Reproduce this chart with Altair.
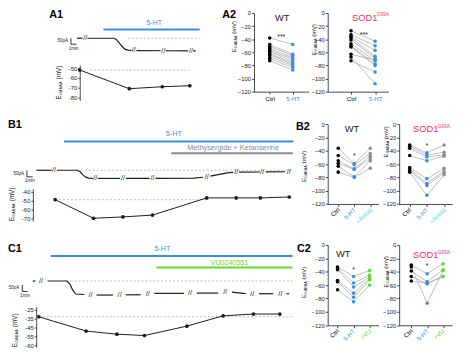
import json
import altair as alt
import pandas as pd

FONT = "Liberation Sans"
W, H = 466, 355

BLUE = "#3b8fe3"
PINK = "#e8336f"
GREEN = "#62d836"
CYAN = "#69d3ef"
BAR_GRAY = "#8c8c8c"
LINE_GRAY = "#a3a3a3"
DASH_GRAY = "#a8a8a8"
INK = "#1c1c1c"

# ================= DATA =================
# ---- Row A (A1): holding current trace (pA) vs time (min) and E_GABAA (mV)
A_TRACE_T = [-0.5, 0.5, 1.4, 6.1, 6.6, 7.1, 7.7, 8.2, 8.8, 9.4, 10.3, 14.7, 15.6, 19.7, 20.6, 21.1]
A_TRACE_I = [0, 0, 0, 0, -8, -35, -70, -92, -100, -102, -104, -106, -106, -107, -107, -107]
A_TRACE_SEG = [0, 0, 1, 1, 1, 1, 1, 1, 1, 1, 2, 2, 3, 3, 4, 4]
A_BREAK_T = [1.0, 9.8, 15.2, 20.2]
A_BREAK_I = [0, -103, -106, -107]
A_E_TIME = [0, 9, 15, 20]
A_E_VAL = [-52, -71, -69, -68]
A_DRUG_NAMES = ["5-HT"]
A_DRUG_START = [4.3]
A_DRUG_END = [21.8]

# ---- Row B (B1)
B_TRACE_T = [-3.2, -0.6, 0.3, 3.7, 4.2, 4.7, 5.2, 5.7, 6.4, 7.2, 11.0, 12.0, 16.0, 17.0, 23.5, 25.1,
             26.3, 28.3, 29.5, 30.2, 31.2, 34.7, 35.7, 39.0]
B_TRACE_I = [0, 0, 0, 0, -10, -35, -52, -60, -62, -62, -62, -62, -61, -61, -59, -53,
             -45, -28, -18, -16, -14, -13, -12, -11]
B_TRACE_SEG = [0, 0, 1, 1, 1, 1, 1, 1, 1, 2, 2, 3, 3, 4, 4, 4, 5, 5, 5, 5, 6, 6, 7, 7]
B_BREAK_T = [-0.2, 6.8, 11.5, 16.5, 25.7, 30.7, 35.1, 39.6]
B_BREAK_I = [0, -62, -62, -61, -50, -15, -13, -11]
B_E_TIME = [0, 6.5, 11.5, 16.5, 25.7, 30.7, 34.8, 39.7]
B_E_VAL = [-49, -69.5, -68, -66, -47, -47, -47, -46]
B_DRUG_NAMES = ["5-HT", "Methysergide + Ketanserine"]
B_DRUG_START = [1.5, 19.7]
B_DRUG_END = [40.4, 40.3]

# ---- Row C (C1)
C_TRACE_T = [-1.1, -0.6, 1.6, 5.1, 5.7, 6.1, 6.7, 8.3, 10.5, 13.5, 15.8, 18.5, 21.0, 26.4,
             28.7, 32.6, 35.1, 37.6, 40.0, 42.6, 45.0, 45.5]
C_TRACE_I = [0, 0, 0, 0, -25, -65, -100, -104, -108, -108, -106, -106, -95, -95,
             -93, -93, -85, -97, -98, -98, -98, -98]
C_TRACE_SEG = [0, 0, 1, 1, 1, 1, 1, 1, 2, 2, 3, 3, 4, 4, 5, 5, 6, 6, 7, 7, 8, 8]
C_BREAK_T = [0.4, 9.4, 14.7, 19.8, 27.5, 33.9, 38.8, 43.9]
C_BREAK_I = [0, -106, -107, -100, -94, -88, -98, -98]
C_E_TIME = [0, 8.6, 14.2, 19.2, 26.9, 33.5, 39, 43.8]
C_E_VAL = [-33, -49, -52.5, -54, -43.5, -32, -30, -30]
C_DRUG_NAMES = ["5-HT", "VU0240551"]
C_DRUG_START = [2.2, 21.4]
C_DRUG_END = [46.1, 46.1]
C_E_TICKS = [-25, -35, -45, -55, -65]
C_E_TICK_LABELS = ["-25", "-35", "-45", "-55", "-60"]

SCALE_PA = 50
SCALE_MIN = 1

# ---- Paired E_GABAA dot plots (mV)
A2_LABELS = ["Ctrl", "5-HT"]
A2_WT = [[-38, -48, -51, -54, -57, -59, -62, -64, -67, -70, -73],
         [-48, -63, -65, -68, -70, -73, -76, -78, -80, -83, -87]]
A2_SOD = [[-27, -33, -36, -38, -41, -47, -50, -52, -63, -67, -73],
          [-43, -50, -57, -66, -69, -73, -78, -80, -72, -108, -90]]
B2_LABELS = ["Ctrl", "5-HT", "+Antag"]
B2_WT = [[-36, -47, -55, -59, -63, -72],
         [-59, -61, -67, -68, -79, -80],
         [-36, -44, -48, -52, -55, -66]]
B2_SOD = [[-31, -33, -36, -47, -65, -67, -70, -72],
          [-43, -46, -49, -55, -82, -89, -92, -107],
          [-31, -42, -46, -48, -66, -70, -73, -76]]
C2_LABELS = ["Ctrl", "5-HT", "+VU"]
C2_WT = [[-33, -35, -37, -53, -55, -67],
         [-47, -57, -63, -72, -78, -85],
         [-38, -45, -48, -50, -52, -60]]
C2_SOD = [[-30, -33, -39, -47, -54],
          [-43, -87, -55, -58, -57],
          [-28, -38, -37, -47, -47]]
STARS = {"A2_WT": ("***", 0.5, -33), "A2_SOD": ("***", 0.53, -30),
         "B2_WT": ("*", 1, -45), "B2_SOD": ("*", 1, -30),
         "C2_WT": ("*", 1, -34), "C2_SOD": ("*", 1, -29)}
DOT_TICKS = [0, -20, -40, -60, -80, -100, -120]

# ================= HELPERS =================
ONE = pd.DataFrame({"k": [0]})


def P(v):
    return v - 8


def lin(dom, r0, r1):
    return alt.Scale(domain=dom, range=[P(r0), P(r1)], zero=False, nice=False)


def text(txt, x, y, size, color=INK, weight="normal", align="center", baseline="middle", angle=0):
    return alt.Chart(ONE).mark_text(
        text=txt, font=FONT, fontSize=size, color=color, fontWeight=weight,
        align=align, baseline=baseline, angle=angle
    ).encode(x=alt.value(P(x)), y=alt.value(P(y)))


def e_title(x, ybot, fs):
    sub = fs * 0.62
    wE = 0.667 * fs
    wG = 3.45 * sub
    return [
        text("E", x, ybot, fs, align="left", angle=270),
        text("GABAA", x + 0.32 * fs, ybot - wE - 0.2, sub, align="left", angle=270),
        text("(mV)", x, ybot - wE - wG - 0.2 - 0.3 * fs, fs, align="left", angle=270),
    ]


def label_expr(values, labels):
    expr = "datum.label"
    for v, l in reversed(list(zip(values, labels))):
        expr = f"datum.value == {v} ? '{l}' : ({expr})"
    return expr


def left_row(tr_t, tr_i, tr_seg, br_t, br_i, e_t, e_v, dnames, dstart, dend, L):
    xs = lin(L["tdom"], L["tpx"][0], L["tpx"][1])
    yI = lin([-150, 0], L["ipx"][0], L["ipx"][1])
    yE = lin(L["edom"], L["epx"][0], L["epx"][1])
    out = []
    for k, name in enumerate(dnames):
        color, ybar, ylab, dx, fs = L["drug_style"][k]
        ddf = pd.DataFrame({"t0": [dstart[k]], "t1": [dend[k]], "mid": [(dstart[k] + dend[k]) / 2], "n": [name]})
        out.append(alt.Chart(ddf).mark_rule(color=color, strokeWidth=2).encode(
            x=alt.X("t0:Q", scale=xs, axis=None), x2="t1:Q", y=alt.value(P(ybar))))
        out.append(alt.Chart(ddf).mark_text(font=FONT, fontSize=fs, color=color, dx=dx).encode(
            x=alt.X("mid:Q", scale=xs, axis=None), y=alt.value(P(ylab)), text="n:N"))
    bdf = pd.DataFrame({"t0": [L["base_dash"][0]], "t1": [L["base_dash"][1]], "I": [0]})
    out.append(alt.Chart(bdf).mark_rule(color=DASH_GRAY, strokeWidth=0.8, strokeDash=[2, 2]).encode(
        x=alt.X("t0:Q", scale=xs, axis=None), x2="t1:Q", y=alt.Y("I:Q", scale=yI, axis=None)))
    tdf = pd.DataFrame({"t": tr_t, "I": tr_i, "seg": tr_seg})
    out.append(alt.Chart(tdf).mark_line(color=INK, strokeWidth=1.2).encode(
        x=alt.X("t:Q", scale=xs, axis=None), y=alt.Y("I:Q", scale=yI, axis=None), detail="seg:N"))
    kdf = pd.DataFrame({"t": br_t, "I": br_i})
    out.append(alt.Chart(kdf).mark_text(text="//", font=FONT, fontSize=7.5, color=INK).encode(
        x=alt.X("t:Q", scale=xs, axis=None), y=alt.Y("I:Q", scale=yI, axis=None)))
    t0, i0 = L["sbar"]
    sdf = pd.DataFrame({"t": [t0], "t2": [t0 + SCALE_MIN], "tm": [t0 + SCALE_MIN / 2],
                        "i": [i0], "i2": [i0 - SCALE_PA], "im": [i0 - SCALE_PA / 2]})
    out.append(alt.Chart(sdf).mark_rule(color=INK, strokeWidth=0.9).encode(
        x=alt.X("t:Q", scale=xs, axis=None), y=alt.Y("i:Q", scale=yI, axis=None), y2="i2:Q"))
    out.append(alt.Chart(sdf).mark_rule(color=INK, strokeWidth=0.9).encode(
        x=alt.X("t:Q", scale=xs, axis=None), x2="t2:Q", y=alt.Y("i2:Q", scale=yI, axis=None)))
    out.append(alt.Chart(sdf).mark_text(text=f"{SCALE_PA}pA", font=FONT, fontSize=4.6, color=INK,
                                        align="right", dx=-3).encode(
        x=alt.X("t:Q", scale=xs, axis=None), y=alt.Y("im:Q", scale=yI, axis=None)))
    out.append(alt.Chart(sdf).mark_text(text=f"{SCALE_MIN}min", font=FONT, fontSize=4.6, color=INK,
                                        baseline="top", dy=1.5).encode(
        x=alt.X("tm:Q", scale=xs, axis=None), y=alt.Y("i2:Q", scale=yI, axis=None)))
    edf = pd.DataFrame({"t": e_t, "E": e_v})
    rdf = pd.DataFrame({"t0": [L["e_dash"][0]], "t1": [L["e_dash"][1]], "E": [e_v[0]]})
    out.append(alt.Chart(rdf).mark_rule(color=DASH_GRAY, strokeWidth=0.8, strokeDash=[2, 2]).encode(
        x=alt.X("t0:Q", scale=xs, axis=None), x2="t1:Q", y=alt.Y("E:Q", scale=yE, axis=None)))
    yax = alt.Axis(orient="left", offset=-P(L["eaxis_x"]), values=L["eticks"], title=None,
                   tickSize=2, labelFontSize=6, labelPadding=1, labelOverlap=False,
                   labelExpr=label_expr(L["eticks"], L["elabels"]))
    out.append(alt.Chart(edf).mark_line(color=INK, strokeWidth=1).encode(
        x=alt.X("t:Q", scale=xs, axis=None), y=alt.Y("E:Q", scale=yE, axis=yax)))
    out.append(alt.Chart(edf).mark_circle(color=INK, size=14, opacity=1).encode(
        x=alt.X("t:Q", scale=xs, axis=None), y=alt.Y("E:Q", scale=yE, axis=None)))
    return out


def dot_panel(values, labels, pt_colors, lab_colors, star, L):
    n = len(labels)
    recs = [{"c": i, "pair": j, "v": v} for i, vals in enumerate(values) for j, v in enumerate(vals)]
    df = pd.DataFrame(recs)
    x0, c0, step, x1 = L["xpx"]
    ytop, ybot = L["ypx"]
    xs = lin([(x0 - c0) / step, (x1 - c0) / step], x0, x1)
    ys = lin([-120, 0], ybot, ytop)
    cond = [{"test": f"datum.value == {i}", "value": lab_colors[i]} for i in range(1, n)]
    xkw = dict(labelAngle=L["angle"])
    if L["angle"] != 0:
        xkw.update(labelAlign="right", labelBaseline="middle")
    xax = alt.Axis(orient="bottom", offset=P(ybot) - H, values=list(range(n)), title=None,
                   labelExpr=label_expr(list(range(n)), labels),
                   labelColor={"condition": cond, "value": lab_colors[0]},
                   tickSize=2.5, labelFontSize=6.3, labelPadding=2, labelOverlap=False,
                   labelFlush=False, **xkw)
    yax = alt.Axis(orient="left", offset=-P(x0), values=DOT_TICKS, title=None,
                   tickSize=2.5, labelFontSize=6, labelPadding=1, labelOverlap=False)
    out = [alt.Chart(df).mark_line(color=LINE_GRAY, strokeWidth=0.7).encode(
        x=alt.X("c:Q", scale=xs, axis=xax), y=alt.Y("v:Q", scale=ys, axis=yax), detail="pair:N")]
    for i in range(n):
        out.append(alt.Chart(df[df.c == i]).mark_circle(color=pt_colors[i], size=13, opacity=1).encode(
            x=alt.X("c:Q", scale=xs, axis=None), y=alt.Y("v:Q", scale=ys, axis=None)))
    s, sx, sy = star
    sdf = pd.DataFrame({"c": [sx], "v": [sy], "s": [s]})
    out.append(alt.Chart(sdf).mark_text(font=FONT, fontSize=7, color=INK, dy=2).encode(
        x=alt.X("c:Q", scale=xs, axis=None), y=alt.Y("v:Q", scale=ys, axis=None), text="s:N"))
    if L["title"] == "WT":
        out.append(text("WT", L["tx"], L["ty"], 9.5))
    else:
        out.append(text("SOD1", L["tx"], L["ty"], 9.5, color=PINK, align="left"))
        out.append(text("G93A", L["tx"] + 25, L["ty"] - 3.5, 5, color=PINK, align="left"))
    out += e_title(L["etx"], L["ety"], 6)
    return out


# ================= LAYOUT =================
LA = dict(tdom=[0, 20], tpx=[81, 193], ipx=[53.7, 35.7], edom=[-83, -47], epx=[99, 63],
          eaxis_x=81, eticks=[-50, -60, -70, -80], elabels=["-50", "-60", "-70", "-80"],
          sbar=(-1.6, 0), base_dash=(8.75, 21.8),
          e_dash=(1.9, 20), drug_style=[(BLUE, 26.7, 20.7, 2.7, 7)])
LB = dict(tdom=[0, 40], tpx=[56, 296], ipx=[190.1, 170], edom=[-72.5, -37], epx=[221.6, 188.9],
          eaxis_x=33.3, eticks=[-40, -50, -60, -70], elabels=["-40", "-50", "-60", "-70"],
          sbar=(-4.8, 0), base_dash=(3.7, 40.3),
          e_dash=(0, 26), drug_style=[(BLUE, 140.7, 133.3, -5, 7.5), (BAR_GRAY, 152.7, 147.3, 1, 7.5)])
LC = dict(tdom=[0, 45], tpx=[39.3, 291.3], ipx=[302.5, 282.7], edom=[-67, -22], epx=[350, 309],
          eaxis_x=36.7, eticks=C_E_TICKS, elabels=C_E_TICK_LABELS, sbar=(-3.0, -30), base_dash=(5.1, 46.1),
          e_dash=(0, 46), drug_style=[(BLUE, 257.3, 250, -9.5, 7.2), (GREEN, 269, 264, 5, 7.2)])

layers = []
layers += left_row(A_TRACE_T, A_TRACE_I, A_TRACE_SEG, A_BREAK_T, A_BREAK_I, A_E_TIME, A_E_VAL,
                   A_DRUG_NAMES, A_DRUG_START, A_DRUG_END, LA)
layers += left_row(B_TRACE_T, B_TRACE_I, B_TRACE_SEG, B_BREAK_T, B_BREAK_I, B_E_TIME, B_E_VAL,
                   B_DRUG_NAMES, B_DRUG_START, B_DRUG_END, LB)
layers += left_row(C_TRACE_T, C_TRACE_I, C_TRACE_SEG, C_BREAK_T, C_BREAK_I, C_E_TIME, C_E_VAL,
                   C_DRUG_NAMES, C_DRUG_START, C_DRUG_END, LC)
layers += e_title(60, 98, 6.5) + e_title(12, 222, 6.5) + e_title(15, 350, 6.5)

PT2 = ["black", BLUE]
layers += dot_panel(A2_WT, A2_LABELS, PT2, ["black", BLUE], STARS["A2_WT"],
                    dict(xpx=(258.3, 274.3, 23.4, 314), ypx=(10, 90), angle=0, title="WT",
                         tx=287, ty=15, etx=238, ety=50))
layers += dot_panel(A2_SOD, A2_LABELS, PT2, ["black", BLUE], STARS["A2_SOD"],
                    dict(xpx=(333.3, 357, 24.5, 395), ypx=(10, 90), angle=0, title="SOD",
                         tx=358, ty=15, etx=319, ety=53))
layers += dot_panel(B2_WT, B2_LABELS, ["black", BLUE, "#8f8f8f"], ["black", BLUE, CYAN], STARS["B2_WT"],
                    dict(xpx=(333.3, 344, 16.3, 385), ypx=(123.3, 204.3), angle=-45, title="WT",
                         tx=358, ty=128, etx=309, ety=182))
layers += dot_panel(B2_SOD, B2_LABELS, ["black", BLUE, "#8f8f8f"], ["black", BLUE, CYAN], STARS["B2_SOD"],
                    dict(xpx=(406, 416.7, 17.5, 460), ypx=(123.3, 204.3), angle=-45, title="SOD",
                         tx=420, ty=128.5, etx=393, ety=157))
layers += dot_panel(C2_WT, C2_LABELS, ["black", BLUE, GREEN], ["black", BLUE, GREEN], STARS["C2_WT"],
                    dict(xpx=(333.3, 343.3, 16.35, 385), ypx=(246, 327.7), angle=-45, title="WT",
                         tx=349, ty=255.5, etx=309, ety=300))
layers += dot_panel(C2_SOD, C2_LABELS, ["black", BLUE, GREEN], ["black", BLUE, GREEN], STARS["C2_SOD"],
                    dict(xpx=(406, 418.3, 16.2, 460), ypx=(246, 327.7), angle=-45, title="SOD",
                         tx=420, ty=256.5, etx=393, ety=289))

for lab, x, y in [("A1", 50, 12), ("A2", 226, 12), ("B1", 8, 124), ("B2", 301, 126),
                  ("C1", 8, 250), ("C2", 302, 250)]:
    layers.append(text(lab, x, y, 11, color="black", weight="bold", align="left"))

chart = alt.layer(*layers).resolve_scale(x="independent", y="independent").properties(
    width=W, height=H, autosize="none", padding=0
).configure_view(stroke=None).configure_axis(
    grid=False, domainColor=INK, tickColor=INK, labelColor=INK, labelFont=FONT,
    domainWidth=0.8, tickWidth=0.8
)

chart.save("out.html", embed_options={"renderer": "svg", "actions": False})
